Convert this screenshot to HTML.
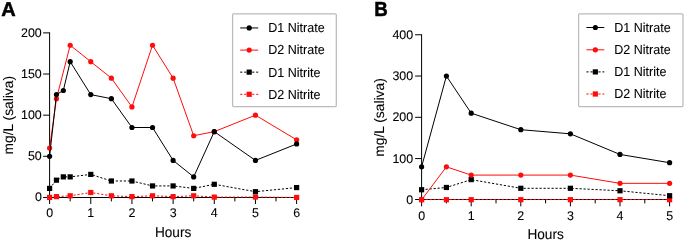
<!DOCTYPE html>
<html><head><meta charset="utf-8"><title>Salivary nitrate and nitrite</title>
<style>
html,body{margin:0;padding:0;background:#fff;}
text.ltr{stroke:#000;stroke-width:0.5px;}
text{stroke:#000;stroke-width:0.08px;}
svg{display:block;font-family:"Liberation Sans",sans-serif;fill:#000;text-rendering:geometricPrecision;}
</style></head><body>
<svg width="685" height="241" viewBox="0 0 685 241">
<rect width="685" height="241" fill="#fff"/>
<path d="M49.6 32.39V198M49.1 197.5H297.12M43.1 197.5H49.6M43.1 156.31H49.6M43.1 115.17H49.6M43.1 74.03H49.6M43.1 32.89H49.6M49.6 197.5V204M90.77 197.5V204M131.94 197.5V204M173.11 197.5V204M214.28 197.5V204M255.45 197.5V204M296.62 197.5V204M70.19 197.5V201.4M111.36 197.5V201.4M152.53 197.5V201.4M193.69 197.5V201.4M234.87 197.5V201.4M276.04 197.5V201.4" fill="none" stroke="#000" stroke-width="1"/>
<g font-size="12.45" text-anchor="end">
<text transform="translate(41.8 201.45) scale(1 1.01)">0</text>
<text transform="translate(41.8 160.31) scale(1 1.01)">50</text>
<text transform="translate(41.8 119.17) scale(1 1.01)">100</text>
<text transform="translate(41.8 78.03) scale(1 1.01)">150</text>
<text transform="translate(41.8 36.89) scale(1 1.01)">200</text>
</g>
<g font-size="12.45" text-anchor="middle">
<text transform="translate(49.6 217.25) scale(1 1.01)">0</text>
<text transform="translate(90.77 217.25) scale(1 1.01)">1</text>
<text transform="translate(131.94 217.25) scale(1 1.01)">2</text>
<text transform="translate(173.11 217.25) scale(1 1.01)">3</text>
<text transform="translate(214.28 217.25) scale(1 1.01)">4</text>
<text transform="translate(255.45 217.25) scale(1 1.01)">5</text>
<text transform="translate(296.62 217.25) scale(1 1.01)">6</text>
</g>
<text font-size="13.65" text-anchor="middle" transform="translate(173.11 237) scale(1 1.05)">Hours</text>
<text font-size="13.8" text-anchor="middle" transform="translate(12.9 115.2) rotate(-90)">mg/L (saliva)</text>
<text font-size="20" font-weight="bold" class="ltr" transform="translate(1.3 15.6) scale(1 1)">A</text>
<path d="M49.6 197.45L56.46 196.63L70.19 195.8L90.77 192.51L111.36 195.8L131.94 196.63L152.53 195.8L173.11 196.63L193.69 195.8L214.28 197.12L255.45 197.04L296.62 197.45" fill="none" stroke="#ff0c0c" stroke-width="1" stroke-dasharray="2.2 1.8"/>
<g fill="#ff0c0c"><rect x="47" y="194.85" width="5.2" height="5.2"/><rect x="53.86" y="194.03" width="5.2" height="5.2"/><rect x="67.59" y="193.2" width="5.2" height="5.2"/><rect x="88.17" y="189.91" width="5.2" height="5.2"/><rect x="108.76" y="193.2" width="5.2" height="5.2"/><rect x="129.34" y="194.03" width="5.2" height="5.2"/><rect x="149.93" y="193.2" width="5.2" height="5.2"/><rect x="170.51" y="194.03" width="5.2" height="5.2"/><rect x="191.09" y="193.2" width="5.2" height="5.2"/><rect x="211.68" y="194.52" width="5.2" height="5.2"/><rect x="252.85" y="194.44" width="5.2" height="5.2"/><rect x="294.02" y="194.85" width="5.2" height="5.2"/></g>
<path d="M49.6 188.4L56.46 180.17L63.32 176.88L70.19 176.88L90.77 174.41L111.36 180.99L131.94 180.99L152.53 185.93L173.11 185.93L193.69 188.4L214.28 184.29L255.45 191.69L296.62 187.58" fill="none" stroke="#000" stroke-width="1" stroke-dasharray="2.2 1.8"/>
<g fill="#000"><rect x="47" y="185.8" width="5.2" height="5.2"/><rect x="53.86" y="177.57" width="5.2" height="5.2"/><rect x="60.72" y="174.28" width="5.2" height="5.2"/><rect x="67.59" y="174.28" width="5.2" height="5.2"/><rect x="88.17" y="171.81" width="5.2" height="5.2"/><rect x="108.76" y="178.39" width="5.2" height="5.2"/><rect x="129.34" y="178.39" width="5.2" height="5.2"/><rect x="149.93" y="183.33" width="5.2" height="5.2"/><rect x="170.51" y="183.33" width="5.2" height="5.2"/><rect x="191.09" y="185.8" width="5.2" height="5.2"/><rect x="211.68" y="181.69" width="5.2" height="5.2"/><rect x="252.85" y="189.09" width="5.2" height="5.2"/><rect x="294.02" y="184.98" width="5.2" height="5.2"/></g>
<path d="M49.6 148.08L56.46 98.71L70.19 45.23L90.77 61.69L111.36 78.14L131.94 106.94L152.53 45.23L173.11 78.14L193.69 135.74L214.28 131.63L255.45 115.17L296.62 139.85" fill="none" stroke="#ff0c0c" stroke-width="1"/>
<g fill="#ff0c0c"><circle cx="49.6" cy="148.08" r="2.6"/><circle cx="56.46" cy="98.71" r="2.6"/><circle cx="70.19" cy="45.23" r="2.6"/><circle cx="90.77" cy="61.69" r="2.6"/><circle cx="111.36" cy="78.14" r="2.6"/><circle cx="131.94" cy="106.94" r="2.6"/><circle cx="152.53" cy="45.23" r="2.6"/><circle cx="173.11" cy="78.14" r="2.6"/><circle cx="193.69" cy="135.74" r="2.6"/><circle cx="214.28" cy="131.63" r="2.6"/><circle cx="255.45" cy="115.17" r="2.6"/><circle cx="296.62" cy="139.85" r="2.6"/></g>
<path d="M49.6 156.31L56.46 94.6L63.32 90.49L70.19 61.69L90.77 94.6L111.36 98.71L131.94 127.51L152.53 127.51L173.11 160.42L193.69 176.88L214.28 131.63L255.45 160.42L296.62 143.97" fill="none" stroke="#000" stroke-width="1"/>
<g fill="#000"><circle cx="49.6" cy="156.31" r="2.6"/><circle cx="56.46" cy="94.6" r="2.6"/><circle cx="63.32" cy="90.49" r="2.6"/><circle cx="70.19" cy="61.69" r="2.6"/><circle cx="90.77" cy="94.6" r="2.6"/><circle cx="111.36" cy="98.71" r="2.6"/><circle cx="131.94" cy="127.51" r="2.6"/><circle cx="152.53" cy="127.51" r="2.6"/><circle cx="173.11" cy="160.42" r="2.6"/><circle cx="193.69" cy="176.88" r="2.6"/><circle cx="214.28" cy="131.63" r="2.6"/><circle cx="255.45" cy="160.42" r="2.6"/><circle cx="296.62" cy="143.97" r="2.6"/></g>
<rect x="232.6" y="13.75" width="103.7" height="92.85" rx="1" fill="#fff" stroke="#bbbbc0" stroke-width="1.25"/>
<path d="M240.2 27.95H258.2" stroke="#000" stroke-width="1"/>
<circle cx="249.2" cy="27.95" r="2.6" fill="#000"/>
<text font-size="12.55" transform="translate(268.2 32.3) scale(1 1.043)">D1 Nitrate</text>
<path d="M240.2 50.1H258.2" stroke="#ff0c0c" stroke-width="1"/>
<circle cx="249.2" cy="50.1" r="2.6" fill="#ff0c0c"/>
<text font-size="12.55" transform="translate(268.2 54.45) scale(1 1.043)">D2 Nitrate</text>
<path d="M240.2 72.15H258.2" stroke="#000" stroke-width="1" stroke-dasharray="2.2 1.8"/>
<rect x="246.6" y="69.55" width="5.2" height="5.2" fill="#000"/>
<text font-size="12.55" transform="translate(268.2 76.5) scale(1 1.043)">D1 Nitrite</text>
<path d="M240.2 94.3H258.2" stroke="#ff0c0c" stroke-width="1" stroke-dasharray="2.2 1.8"/>
<rect x="246.6" y="91.7" width="5.2" height="5.2" fill="#ff0c0c"/>
<text font-size="12.55" transform="translate(268.2 98.65) scale(1 1.043)">D2 Nitrite</text>
<path d="M421.6 34.27V200M421.1 199.5H670.1M415.1 199.5H421.6M415.1 158.58H421.6M415.1 117.31H421.6M415.1 76.04H421.6M415.1 34.77H421.6M421.6 199.5V206.35M471.2 199.5V206.35M520.8 199.5V206.35M570.4 199.5V206.35M620 199.5V206.35M669.6 199.5V206.35M446.4 199.5V203.4M496 199.5V203.4M545.6 199.5V203.4M595.2 199.5V203.4M644.8 199.5V203.4" fill="none" stroke="#000" stroke-width="1"/>
<g font-size="12.45" text-anchor="end">
<text transform="translate(413.2 203.85) scale(1 1.01)">0</text>
<text transform="translate(413.2 162.58) scale(1 1.01)">100</text>
<text transform="translate(413.2 121.31) scale(1 1.01)">200</text>
<text transform="translate(413.2 80.04) scale(1 1.01)">300</text>
<text transform="translate(413.2 38.77) scale(1 1.01)">400</text>
</g>
<g font-size="12.45" text-anchor="middle">
<text transform="translate(421.6 219.55) scale(1 1.01)">0</text>
<text transform="translate(471.2 219.55) scale(1 1.01)">1</text>
<text transform="translate(520.8 219.55) scale(1 1.01)">2</text>
<text transform="translate(570.4 219.55) scale(1 1.01)">3</text>
<text transform="translate(620 219.55) scale(1 1.01)">4</text>
<text transform="translate(669.6 219.55) scale(1 1.01)">5</text>
</g>
<text font-size="13.65" text-anchor="middle" transform="translate(545.6 239.4) scale(1 1.05)">Hours</text>
<text font-size="13.8" text-anchor="middle" transform="translate(384.1 117.5) rotate(-90)">mg/L (saliva)</text>
<text font-size="20" font-weight="bold" class="ltr" transform="translate(374.3 15.8) scale(0.935 1.02)">B</text>
<path d="M421.6 199.56L446.4 199.56L471.2 199.56L520.8 199.56L570.4 199.56L620 199.56L669.6 199.56" fill="none" stroke="#ff0c0c" stroke-width="1" stroke-dasharray="2.2 1.8"/>
<g fill="#ff0c0c"><rect x="419" y="197.11" width="5.2" height="5.2"/><rect x="443.8" y="197.11" width="5.2" height="5.2"/><rect x="468.6" y="197.11" width="5.2" height="5.2"/><rect x="518.2" y="197.11" width="5.2" height="5.2"/><rect x="567.8" y="197.11" width="5.2" height="5.2"/><rect x="617.4" y="197.11" width="5.2" height="5.2"/><rect x="667" y="197.11" width="5.2" height="5.2"/></g>
<path d="M421.6 189.74L446.4 187.47L471.2 179.63L520.8 188.29L570.4 188.29L620 190.77L669.6 195.72" fill="none" stroke="#000" stroke-width="1" stroke-dasharray="2.2 1.8"/>
<g fill="#000"><rect x="419" y="187.14" width="5.2" height="5.2"/><rect x="443.8" y="184.87" width="5.2" height="5.2"/><rect x="468.6" y="177.03" width="5.2" height="5.2"/><rect x="518.2" y="185.69" width="5.2" height="5.2"/><rect x="567.8" y="185.69" width="5.2" height="5.2"/><rect x="617.4" y="188.17" width="5.2" height="5.2"/><rect x="667" y="193.12" width="5.2" height="5.2"/></g>
<path d="M421.6 199.85L446.4 166.83L471.2 175.09L520.8 175.09L570.4 175.09L620 183.34L669.6 183.34" fill="none" stroke="#ff0c0c" stroke-width="1"/>
<g fill="#ff0c0c"><circle cx="421.6" cy="199.85" r="2.6"/><circle cx="446.4" cy="166.83" r="2.6"/><circle cx="471.2" cy="175.09" r="2.6"/><circle cx="520.8" cy="175.09" r="2.6"/><circle cx="570.4" cy="175.09" r="2.6"/><circle cx="620" cy="183.34" r="2.6"/><circle cx="669.6" cy="183.34" r="2.6"/></g>
<path d="M421.6 166.83L446.4 76.04L471.2 113.18L520.8 129.69L570.4 133.82L620 154.45L669.6 162.71" fill="none" stroke="#000" stroke-width="1"/>
<g fill="#000"><circle cx="421.6" cy="166.83" r="2.6"/><circle cx="446.4" cy="76.04" r="2.6"/><circle cx="471.2" cy="113.18" r="2.6"/><circle cx="520.8" cy="129.69" r="2.6"/><circle cx="570.4" cy="133.82" r="2.6"/><circle cx="620" cy="154.45" r="2.6"/><circle cx="669.6" cy="162.71" r="2.6"/></g>
<rect x="578.6" y="13.8" width="104.4" height="92.8" rx="1" fill="#fff" stroke="#bbbbc0" stroke-width="1.25"/>
<path d="M586.4 27.5H604.3" stroke="#000" stroke-width="1"/>
<circle cx="595.35" cy="27.5" r="2.6" fill="#000"/>
<text font-size="12.55" transform="translate(614.2 31.85) scale(1 1.043)">D1 Nitrate</text>
<path d="M586.4 49.8H604.3" stroke="#ff0c0c" stroke-width="1"/>
<circle cx="595.35" cy="49.8" r="2.6" fill="#ff0c0c"/>
<text font-size="12.55" transform="translate(614.2 54.15) scale(1 1.043)">D2 Nitrate</text>
<path d="M586.4 71.9H604.3" stroke="#000" stroke-width="1" stroke-dasharray="2.2 1.8"/>
<rect x="592.75" y="69.3" width="5.2" height="5.2" fill="#000"/>
<text font-size="12.55" transform="translate(614.2 76.25) scale(1 1.043)">D1 Nitrite</text>
<path d="M586.4 94H604.3" stroke="#ff0c0c" stroke-width="1" stroke-dasharray="2.2 1.8"/>
<rect x="592.75" y="91.4" width="5.2" height="5.2" fill="#ff0c0c"/>
<text font-size="12.55" transform="translate(614.2 98.35) scale(1 1.043)">D2 Nitrite</text>
</svg>
</body></html>
